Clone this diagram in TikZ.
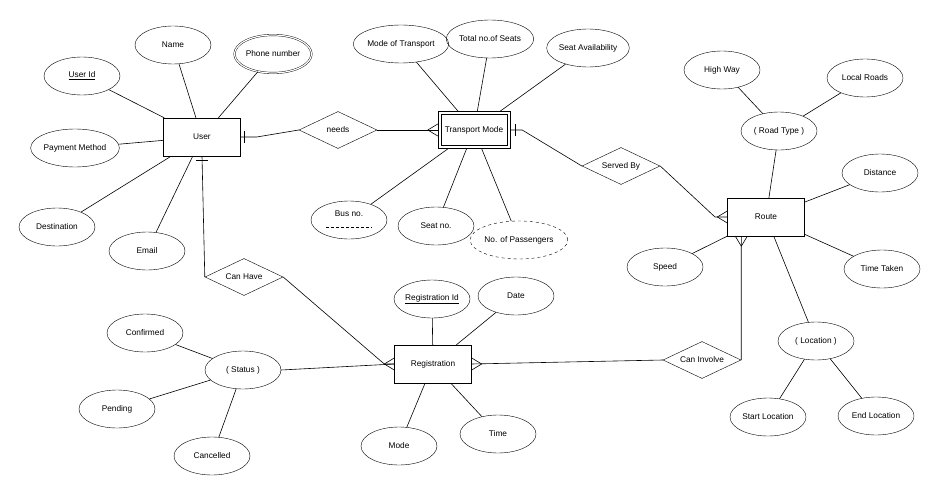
\documentclass[tikz,border=0pt]{standalone}
\usepackage{fontspec}
\setmainfont{Liberation Sans}
\usetikzlibrary{shapes.geometric,calc}
\begin{document}
\begin{tikzpicture}[x=1pt,y=-1pt,font=\fontsize{8.3}{9.5}\selectfont,
  ent/.style={draw,minimum width=77pt,minimum height=38pt,inner sep=0pt},
  rel/.style={draw,diamond,aspect=2.1,minimum width=78pt,minimum height=37pt,inner sep=0pt},
  att/.style={draw,ellipse,minimum width=76pt,minimum height=38pt,inner sep=0pt},
  ln/.style={draw,line width=0.6pt}]
\useasboundingbox (0,0) rectangle (940,495);
% entities
\node[ent] (u) at (202,137) {User};
\node[ent,minimum width=72pt,minimum height=37pt] (tm) at (474,130) {Transport Mode};
\draw[ln] ($(tm.north west)+(3,3)$) rectangle ($(tm.south east)+(-3,-3)$);
\node[ent] (r) at (766,217) {Route};
\node[ent] (reg) at (433,364) {Registration};
% relationships
\node[rel] (nd) at (338,130) {needs};
\node[rel] (sb) at (621,166) {Served By};
\node[rel] (ch) at (244,277) {Can Have};
\node[rel] (ci) at (702,360) {Can Involve};
% attributes
\node[att] (name) at (173,45) {Name};
\node[att,double,double distance=1.2pt] (ph) at (273,54) {Phone number};
\node[att] (uid) at (82,76) {\underline{User Id}};
\node[att] (pm) at (75,148) {Payment Method};
\node[att] (dest) at (57,227) {Destination};
\node[att] (em) at (147,251) {Email};
\node[att,minimum width=76pt] (mot) at (401,44) {Mode of Transport};
\node[att,minimum width=70pt] (tos) at (490,39) {Total no.of Seats};
\node[att] (sa) at (588,48) {Seat Availability};
\node[att] (bus) at (349,220) {};
\node at (349,214) {Bus no.};
\draw[densely dashed,line width=0.4pt] (326,227) -- (372,227);
\node[att] (sn) at (436,226) {Seat no.};
\node[att,dashed,minimum width=78pt] (nop) at (519,240) {No. of Passengers};
\node[att] (hw) at (722,70) {High Way};
\node[att] (lr) at (865,78) {Local Roads};
\node[att] (rt) at (779,131) {( Road Type )};
\node[att] (dist) at (880,173) {Distance};
\node[att] (sp) at (665,267) {Speed};
\node[att] (tt) at (882,269) {Time Taken};
\node[att] (loc) at (816,341) {( Location )};
\node[att] (sl) at (768,417) {Start Location};
\node[att] (el) at (876,416) {End Location};
\node[att] (rid) at (432,299) {\underline{Registration Id}};
\node[att] (date) at (516,296) {Date};
\node[att] (mode) at (399,446) {Mode};
\node[att] (time) at (498,434) {Time};
\node[att] (conf) at (145,333) {Confirmed};
\node[att] (st) at (243,370) {( Status )};
\node[att] (pend) at (117,409) {Pending};
\node[att] (canc) at (212,456) {Cancelled};
% attribute lines
\foreach \a in {name,ph,uid,pm,dest,em} \draw[ln] (u) -- (\a);
\foreach \a in {mot,tos,sa,bus,sn,nop} \draw[ln] (tm) -- (\a);
\draw[ln] (r) -- (rt); \draw[ln] (rt) -- (hw); \draw[ln] (rt) -- (lr);
\foreach \a in {dist,sp,tt,loc} \draw[ln] (r) -- (\a);
\draw[ln] (loc) -- (sl); \draw[ln] (loc) -- (el);
\foreach \a in {rid,date,mode,time} \draw[ln] (reg) -- (\a);
\draw[ln] (st) -- (conf); \draw[ln] (st) -- (pend); \draw[ln] (st) -- (canc);
% relationship lines
\draw[ln] (u.east) -- ++(16,0) -- (nd.west);
\draw[ln] (nd.east) -- (tm.west);
\draw[ln] (tm.east) -- ++(12,0) -- (sb.west);
\draw[ln] (sb.east) -- (715,217) -- (r.west);
\draw[ln] (u.south) -- (ch.west);
\draw[ln] (ch.east) -- ($(reg.west)+(-10,0)$) -- (reg.west);
\draw[ln] (st.east) -- (reg.west);
\draw[ln] (reg.east) -- (ci.west);
\coordinate (rb) at ($(r.south west)+(14,0)$);
\draw[ln] (ci.east) -- (rb);
% bars (one)
\draw[ln] ($(u.east)+(4,-6)$) -- ($(u.east)+(4,6)$);
\draw[ln] ($(tm.east)+(5,-6)$) -- ($(tm.east)+(5,6)$);
\draw[ln] ($(u.south)+(-6,4)$) -- ($(u.south)+(6,4)$);
% crow's feet
\foreach \n/\dx in {tm.west/-1, r.west/-1, reg.west/-1, reg.east/1}
  \draw[ln] ($(\n)+(10*\dx,0)$) -- ($(\n)+(0,-6)$) ($(\n)+(10*\dx,0)$) -- ($(\n)+(0,6)$);
\draw[ln] ($(rb)+(0,10)$) -- ($(rb)+(-6,0)$) ($(rb)+(0,10)$) -- ($(rb)+(6,0)$);
\end{tikzpicture}
\end{document}
